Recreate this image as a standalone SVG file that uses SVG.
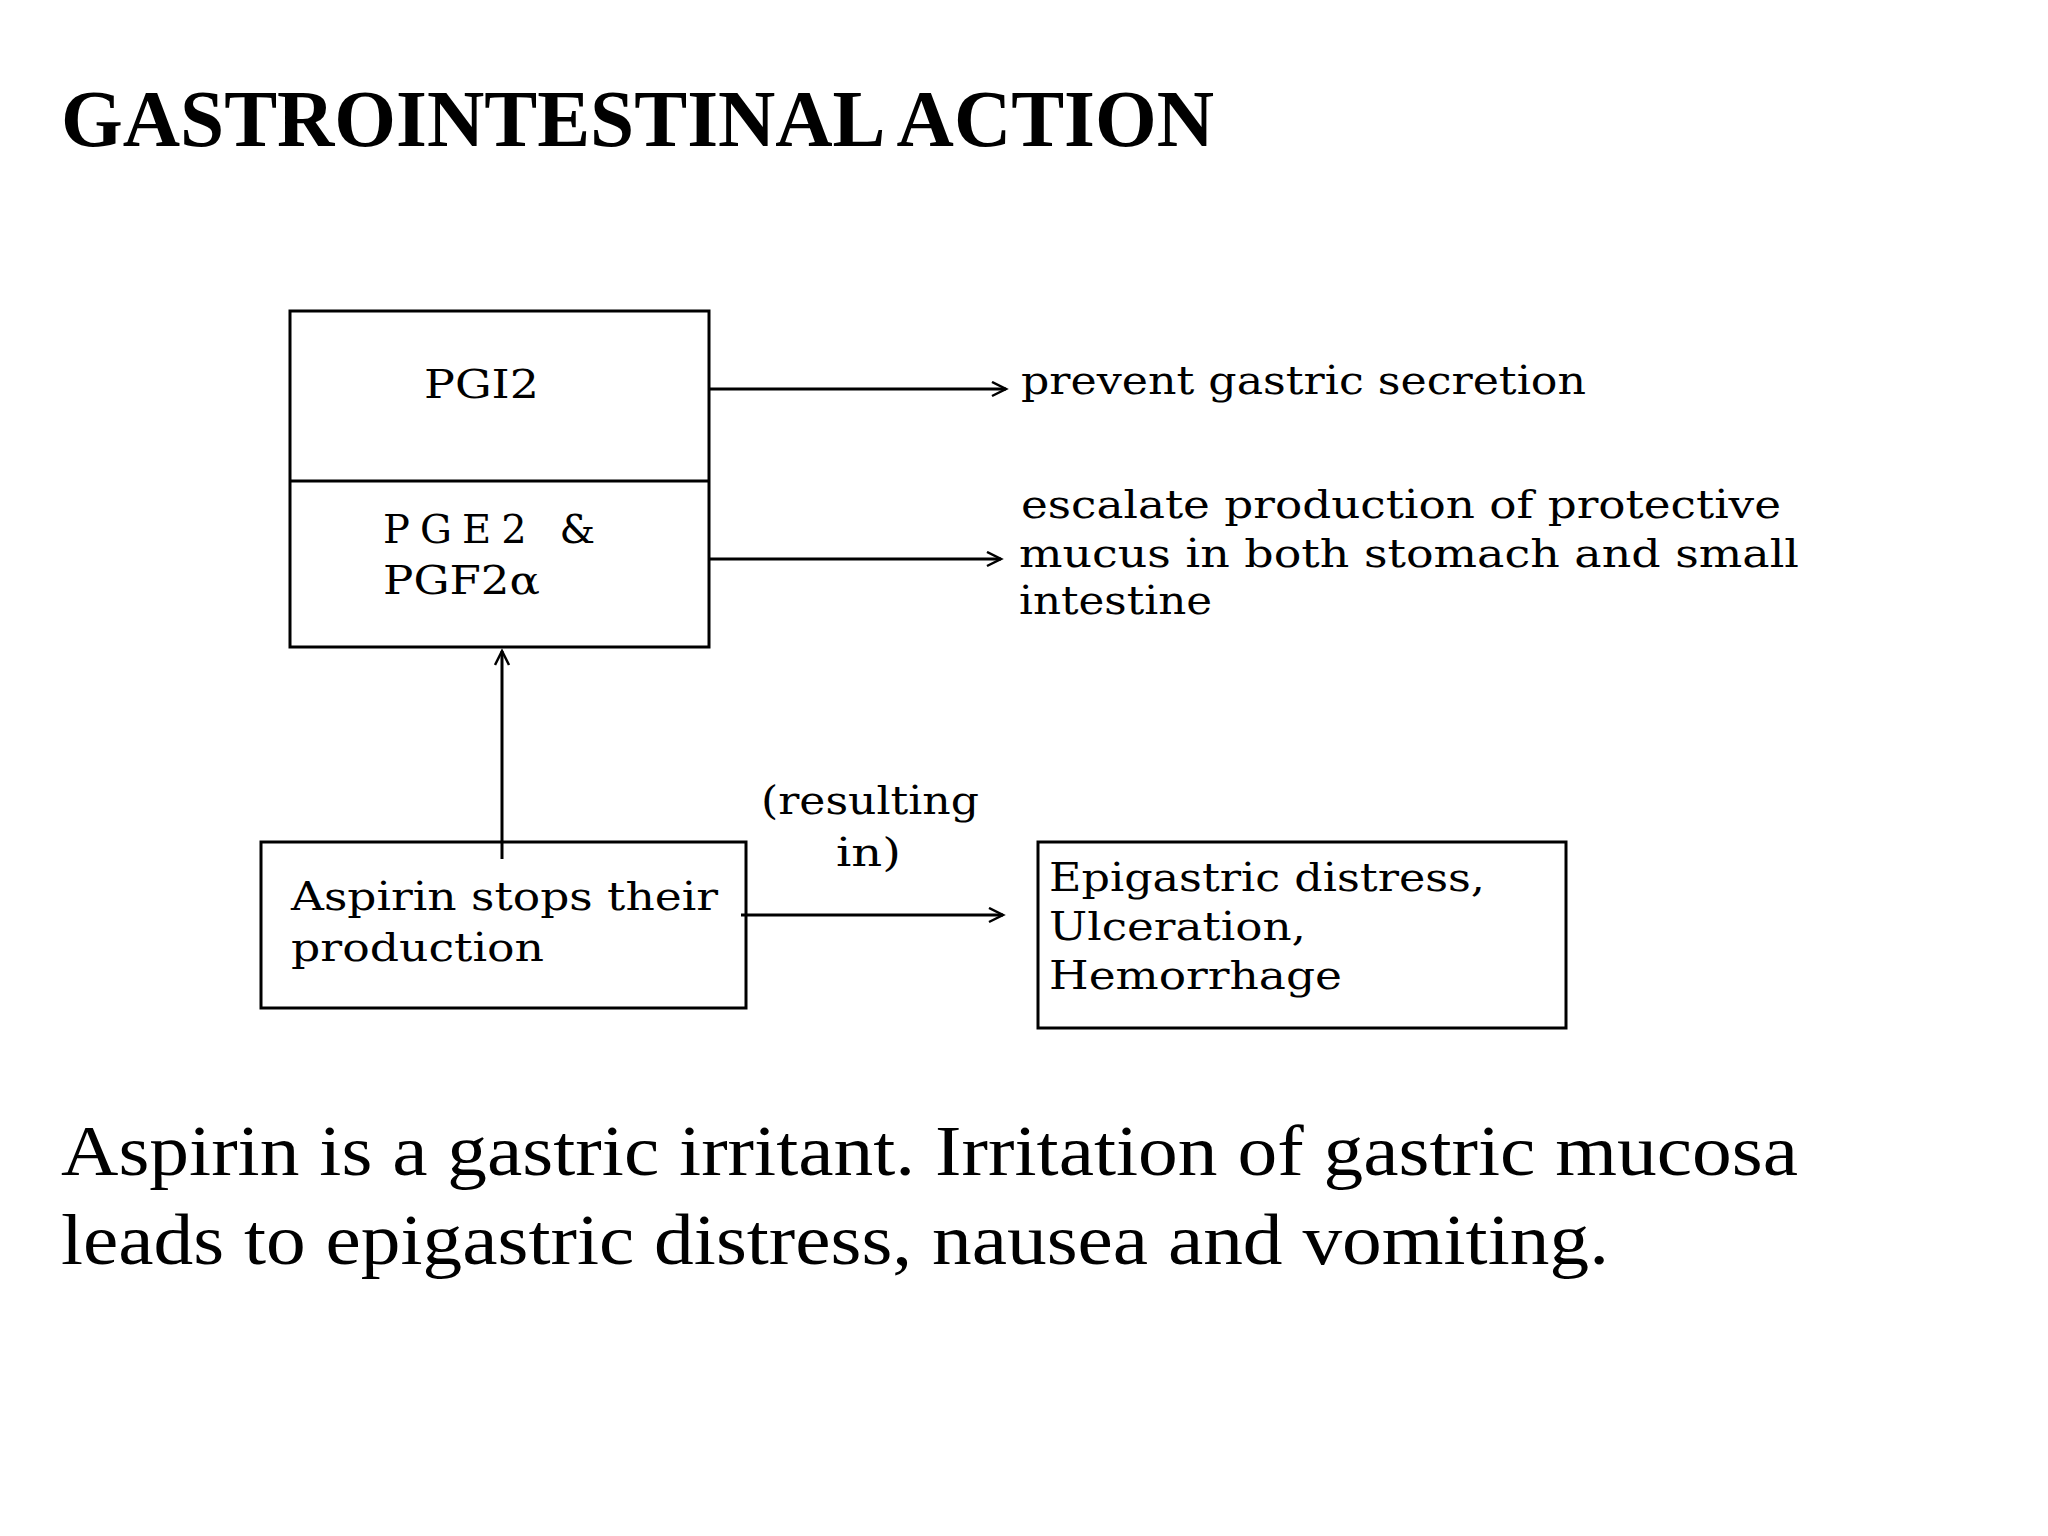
<svg xmlns="http://www.w3.org/2000/svg" width="2048" height="1536" viewBox="0 0 2048 1536">
<style>
.b{fill:none;stroke:#000;stroke-width:3}
.c{stroke:#000;stroke-width:3;fill:none;marker-end:url(#a)}
.t{font-family:"DejaVu Serif","Liberation Serif",serif;font-size:40px;fill:#000}
.h{font-family:"Liberation Serif",serif;fill:#000}
</style>
<defs><marker id="a" markerWidth="20" markerHeight="20" refX="16" refY="8" orient="auto" markerUnits="userSpaceOnUse"><polyline points="2,1 16,8 2,15" fill="none" stroke="#000" stroke-width="2.5"/></marker></defs>
<rect width="2048" height="1536" fill="#fff"/>
<text class="h" x="61" y="146" font-size="80" font-weight="bold" textLength="1153" lengthAdjust="spacingAndGlyphs">GASTROINTESTINAL ACTION</text>
<g id="pg">
<rect class="b" x="290" y="311" width="419" height="336"/>
<line class="b" x1="290" y1="481" x2="709" y2="481"/>
<text class="t" x="424" y="398" textLength="115" lengthAdjust="spacingAndGlyphs">PGI2</text>
<text class="t" x="383" y="543" textLength="212" lengthAdjust="spacing">PGE2  &amp;</text>
<text class="t" x="383" y="594" textLength="157" lengthAdjust="spacingAndGlyphs">PGF2α</text>
</g>
<g id="aspirin">
<rect class="b" x="261" y="842" width="485" height="166"/>
<text class="t" x="291" y="910" textLength="427" lengthAdjust="spacingAndGlyphs">Aspirin stops their</text>
<text class="t" x="291" y="961" textLength="253" lengthAdjust="spacingAndGlyphs">production</text>
</g>
<g id="epi">
<rect class="b" x="1038" y="842" width="528" height="186"/>
<text class="t" x="1049" y="891" textLength="436" lengthAdjust="spacingAndGlyphs">Epigastric distress,</text>
<text class="t" x="1049" y="940" textLength="257" lengthAdjust="spacingAndGlyphs">Ulceration,</text>
<text class="t" x="1049" y="989" textLength="293" lengthAdjust="spacingAndGlyphs">Hemorrhage</text>
</g>
<g id="labels">
<text class="t" x="1021" y="394" textLength="565" lengthAdjust="spacingAndGlyphs">prevent gastric secretion</text>
<text class="t" x="1021" y="518" textLength="760" lengthAdjust="spacingAndGlyphs">escalate production of protective</text>
<text class="t" x="1019" y="567" textLength="780" lengthAdjust="spacingAndGlyphs">mucus in both stomach and small</text>
<text class="t" x="1019" y="614" textLength="193" lengthAdjust="spacingAndGlyphs">intestine</text>
<text class="t" x="761" y="814" textLength="218" lengthAdjust="spacingAndGlyphs">(resulting</text>
<text class="t" x="836" y="866" textLength="65" lengthAdjust="spacingAndGlyphs">in)</text>
</g>
<g id="connectors">
<line class="c" x1="709" y1="389" x2="1006" y2="389"/>
<line class="c" x1="709" y1="559" x2="1001" y2="559"/>
<line class="c" x1="502" y1="859" x2="502" y2="651"/>
<line class="c" x1="741" y1="915" x2="1003" y2="915"/>
</g>
<text class="h" x="61" y="1175" font-size="72" textLength="1737" lengthAdjust="spacingAndGlyphs">Aspirin is a gastric irritant. Irritation of gastric mucosa</text>
<text class="h" x="61" y="1264" font-size="72" textLength="1548" lengthAdjust="spacingAndGlyphs">leads to epigastric distress, nausea and vomiting.</text>
</svg>
